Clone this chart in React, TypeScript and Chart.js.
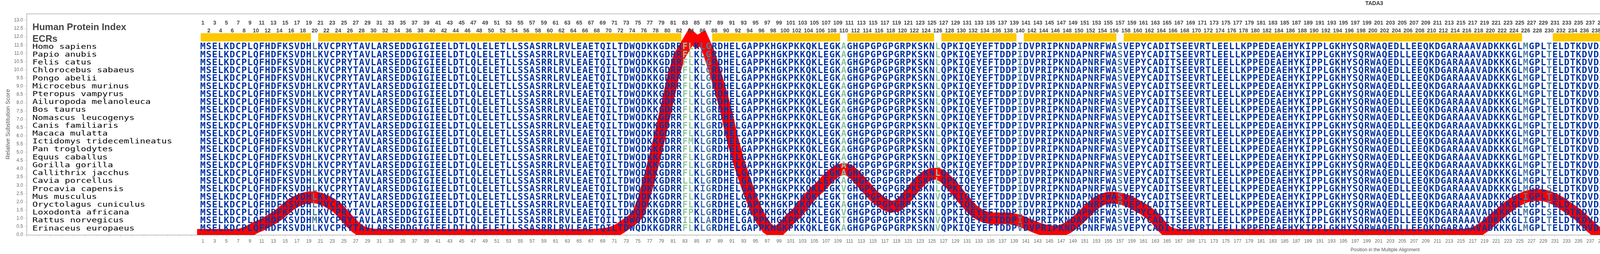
import React, { useEffect, useRef } from 'react';
import { Chart, registerables } from 'chart.js';

Chart.register(...registerables);

const CHART_TITLE = 'TADA3';
const Y_TITLE = 'Relative Substitution Score';
const X_TITLE = 'Position in the Multiple Alignment';
const HEADER_LABEL = 'Human Protein Index';
const ECR_LABEL = 'ECRs';

const SPECIES = [
  'Homo sapiens', 'Papio anubis', 'Felis catus', 'Chlorocebus sabaeus', 'Pongo abelii',
  'Microcebus murinus', 'Pteropus vampyrus', 'Ailuropoda melanoleuca', 'Bos taurus',
  'Nomascus leucogenys', 'Canis familiaris', 'Macaca mulatta', 'Ictidomys tridecemlineatus',
  'Pan troglodytes', 'Equus caballus', 'Gorilla gorilla', 'Callithrix jacchus',
  'Cavia porcellus', 'Procavia capensis', 'Mus musculus', 'Oryctolagus cuniculus',
  'Loxodonta africana', 'Rattus norvegicus', 'Erinaceus europaeus',
];

const HUMAN_SEQUENCE = [
  'MSELKDCPLQ', 'FHDFKSVDHL', 'KVCPRYTAVL', 'ARSEDDGIGI', 'EELDTLQLEL',
  'ETLLSSASRR', 'LRVLEAETQI', 'LTDWQDKKGD', 'RRFLKLGRDH', 'ELGAPPKHGK',
  'PKKQKLEGKA', 'GHGPGPGPGR', 'PKSKNLQPKI', 'QEYEFTDDPI', 'DVPRIPKNDA',
  'PNRFWASVEP', 'YCADITSEEV', 'RTLEELLKPP', 'EDEAEHYKIP', 'PLGKHYSQRW',
  'AQEDLLEEQK', 'DGARAAAVAD', 'KKKGLMGPLT', 'ELDTKDVDAL', 'LKKSEAQHEQ',
  'PEDGCPFGAL', 'TQRLLQALVE', 'ENIISPMEDS', 'PIPDMSGKES', 'GADGASTSPR',
  'NQNKPFSVPH', 'TKSLESRIKE', 'ELIAQGLLES', 'EDRPAEDSED', 'EVLAELRKRQ',
  'AELKALSAHN', 'RTKKHDLLRL', 'AKEEVSRQEL', 'RQRVRMADNE', 'VMDAFRKIMA',
  'ARQKKRTPTK', 'KEKDQAWKTL', 'KERESILKLL', 'DG',
].join('');

// [species row, alignment position, residue]
const VARIANTS: [number, number, string][] = [
  [22, 20, 'M'],
  [17, 83, 'L'], [22, 83, 'I'],
  [12, 84, 'M'], [21, 84, 'P'],
  [18, 86, 'I'],
  [22, 87, 'A'],
  [18, 110, 'V'], [19, 110, 'T'], [21, 110, 'V'], [22, 110, 'T'],
  [19, 126, 'V'], [22, 126, 'V'], [23, 126, 'V'],
  [23, 140, 'V'],
  [20, 157, 'P'],
  [19, 226, 'I'], [20, 226, 'L'], [22, 226, 'I'],
  [18, 230, 'S'], [21, 230, 'S'],
  [20, 287, 'A'],
  [15, 292, 'V'],
  [14, 332, 'E'],
  [13, 372, 'R'],
  [17, 411, 'N'],
];

// [species row, first position, last position, symbol]
const MASKED_RUNS: [number, number, number, string][] = [
  [23, 271, 307, 'X'],
];

const GREEN_COLUMNS = [83, 84, 110, 126];
const GRAYBLUE_COLUMNS = [20, 87, 140, 157, 226, 230, 287, 292, 332, 372, 411];
const MIDBLUE_COLUMNS = [86];

// Evolutionarily conserved regions [first, last]
const ECR_SEGMENTS: [number, number][] = [
  [1, 19], [21, 82], [88, 109], [111, 125], [127, 139], [141, 156], [158, 225],
  [231, 286], [293, 331], [333, 371], [373, 410], [412, 432],
];

const SUBSTITUTION_SCORE = [
  // 1-10
  0, 0, 0, 0, 0, 0, 0, 0.1, 0.25, 0.45,
  // 11-20
  0.6, 0.8, 1.0, 1.25, 1.55, 1.85, 2.05, 2.2, 2.27, 2.27,
  // 21-30
  2.2, 2.05, 1.85, 1.6, 1.2, 0.8, 0.45, 0.2, 0.08, 0.02,
  // 31-40
  0, 0, 0, 0, 0, 0, 0, 0, 0, 0,
  // 41-50
  0, 0, 0, 0, 0, 0, 0, 0, 0, 0,
  // 51-60
  0, 0, 0, 0, 0, 0, 0, 0, 0, 0,
  // 61-70
  0, 0, 0, 0, 0, 0, 0, 0.02, 0.05, 0.1,
  // 71-80
  0.2, 0.4, 0.65, 0.9, 1.25, 2.2, 3.5, 4.9, 6.4, 8.0,
  // 81-90
  9.6, 10.8, 11.4, 12.0, 11.7, 11.9, 11.1, 10.0, 8.8, 7.5,
  // 91-100
  5.9, 4.6, 3.5, 2.5, 1.6, 0.9, 0.4, 0.15, 0.25, 0.6,
  // 101-110
  1.0, 1.3, 1.75, 2.2, 2.6, 2.9, 3.3, 3.65, 3.9, 4.0,
  // 111-120
  3.9, 3.6, 3.2, 2.8, 2.4, 2.1, 1.85, 1.7, 1.75, 2.0,
  // 121-130
  2.4, 2.85, 3.25, 3.55, 3.7, 3.7, 3.5, 3.15, 2.75, 2.3,
  // 131-140
  1.9, 1.5, 1.25, 1.08, 1.0, 1.0, 1.0, 1.0, 0.95, 0.85,
  // 141-150
  0.7, 0.55, 0.4, 0.3, 0.22, 0.2, 0.25, 0.4, 0.65, 0.95,
  // 151-160
  1.3, 1.65, 1.95, 2.15, 2.25, 2.25, 2.2, 2.1, 1.95, 1.75,
  // 161-170
  1.55, 1.3, 1.0, 0.55, 0.2, 0.05, 0, 0, 0, 0,
  // 171-180
  0, 0, 0, 0, 0, 0, 0, 0, 0, 0,
  // 181-190
  0, 0, 0, 0, 0, 0, 0, 0, 0, 0,
  // 191-200
  0, 0, 0, 0, 0, 0, 0, 0, 0, 0,
  // 201-210
  0, 0, 0, 0, 0, 0, 0, 0, 0, 0,
  // 211-220
  0, 0, 0, 0, 0, 0.03, 0.1, 0.25, 0.5, 0.8,
  // 221-230
  1.1, 1.4, 1.7, 1.95, 2.15, 2.3, 2.4, 2.42, 2.4, 2.3,
  // 231-240
  2.15, 1.95, 1.7, 1.45, 1.2, 0.85, 0.5, 0.2, 0.05, 0,
  // 241-250
  0, 0, 0, 0, 0, 0, 0, 0, 0, 0,
  // 251-260
  0, 0, 0, 0, 0, 0, 0, 0, 0, 0,
  // 261-270
  0, 0, 0, 0, 0, 0, 0, 0, 0, 0,
  // 271-280
  0, 0, 0, 0, 0, 0.03, 0.1, 0.25, 0.45, 0.7,
  // 281-290
  1.0, 1.3, 1.7, 2.1, 2.75, 3.1, 3.35, 3.6, 3.67, 3.6,
  // 291-300
  3.45, 3.2, 2.9, 2.5, 2.1, 1.75, 1.4, 1.05, 0.65, 0.3,
  // 301-310
  0.1, 0.02, 0, 0, 0, 0, 0, 0, 0, 0,
  // 311-320
  0, 0, 0, 0, 0, 0, 0, 0, 0, 0,
  // 321-330
  0, 0.03, 0.1, 0.25, 0.45, 0.8, 1.1, 1.35, 1.6, 1.78,
  // 331-340
  1.9, 1.95, 1.92, 1.82, 1.65, 1.5, 1.38, 1.15, 0.8, 0.45,
  // 341-350
  0.2, 0.08, 0.02, 0, 0, 0, 0, 0, 0, 0,
  // 351-360
  0, 0, 0, 0, 0, 0, 0, 0, 0, 0,
  // 361-370
  0, 0.05, 0.15, 0.3, 0.55, 0.85, 1.15, 1.3, 1.42, 1.5,
  // 371-380
  1.53, 1.52, 1.45, 1.35, 1.2, 1.05, 0.88, 0.72, 0.55, 0.35,
  // 381-390
  0.15, 0.05, 0, 0, 0, 0, 0, 0, 0, 0,
  // 391-400
  0, 0, 0, 0, 0, 0, 0, 0, 0, 0.05,
  // 401-410
  0.15, 0.3, 0.55, 0.8, 1.05, 1.35, 1.6, 1.85, 2.0, 2.1,
  // 411-420
  2.08, 1.98, 1.85, 1.7, 1.55, 1.35, 1.1, 0.7, 0.35, 0.12,
  // 421-430
  0.03, 0, 0, 0, 0, 0, 0, 0, 0, 0,
  // 431-432
  0, 0,
];

const POSITIONS = SUBSTITUTION_SCORE.map((_, i) => i + 1);
const X_MIN = -29;
const X_MAX = 433.2;
const X_AXIS_TICKS: number[] = [];
for (let v = X_MIN; v <= X_MAX; v += 2) X_AXIS_TICKS.push(v);

// layout (value units of the y scale)
const NUM_ROW_ODD_BASE = 12.73;
const NUM_ROW_EVEN_BASE = 12.256;
const HEADER_BASE = 12.405;
const ECR_LABEL_BASE = 11.695;
const ECR_LEVEL = 11.97;
const ROW_TOP = 11.434;
const ROW_STEP = 0.4787;
const LABEL_X = -28.0;

const SANS = '"Liberation Sans", Arial, sans-serif';
const MONO = '"DejaVu Sans Mono", monospace';

const DARK_BLUE = '#0033A3';
const GRAY_BLUE = '#4D7DA3';
const MID_BLUE = '#3B6CB5';
const GREEN = '#8DC4A0';

function columnColor(p: number): string {
  if (GREEN_COLUMNS.includes(p)) return GREEN;
  if (GRAYBLUE_COLUMNS.includes(p)) return GRAY_BLUE;
  if (MIDBLUE_COLUMNS.includes(p)) return MID_BLUE;
  return DARK_BLUE;
}

function buildRow(r: number): string[] {
  const chars = HUMAN_SEQUENCE.split('');
  VARIANTS.forEach(([row, p, aa]) => {
    if (row === r) chars[p - 1] = aa;
  });
  MASKED_RUNS.forEach(([row, a, b, s]) => {
    if (row === r) for (let p = a; p <= b; p++) chars[p - 1] = s;
  });
  return chars;
}

const overlayPlugin = {
  id: 'alignmentOverlay',
  afterDatasetsDraw(chart: any) {
    const { ctx, chartArea, scales } = chart;
    const xs = scales.x;
    const ys = scales.y;
    ctx.save();

    // plot border
    ctx.strokeStyle = '#858585';
    ctx.lineWidth = 1;
    ctx.strokeRect(
      Math.round(chartArea.left) + 0.5,
      Math.round(chartArea.top) + 0.5,
      Math.round(chartArea.right - chartArea.left) - 1,
      Math.round(chartArea.bottom - chartArea.top),
    );

    // position numbers
    ctx.font = `bold 14px ${SANS}`;
    ctx.fillStyle = '#444444';
    ctx.textAlign = 'center';
    ctx.textBaseline = 'alphabetic';
    const yOdd = ys.getPixelForValue(NUM_ROW_ODD_BASE);
    const yEven = ys.getPixelForValue(NUM_ROW_EVEN_BASE);
    POSITIONS.forEach((p) => {
      ctx.fillText(String(p), xs.getPixelForValue(p), p % 2 === 1 ? yOdd : yEven);
    });

    // header labels
    const lx = xs.getPixelForValue(LABEL_X);
    ctx.textAlign = 'left';
    ctx.font = `bold 24px ${SANS}`;
    ctx.fillStyle = '#444444';
    ctx.fillText(HEADER_LABEL, lx, ys.getPixelForValue(HEADER_BASE));
    ctx.fillText(ECR_LABEL, lx, ys.getPixelForValue(ECR_LABEL_BASE));

    // species names
    ctx.fillStyle = '#000000';
    ctx.font = `18px ${MONO}`;
    SPECIES.forEach((name, r) => {
      const cy = ys.getPixelForValue(ROW_TOP - r * ROW_STEP);
      ctx.save();
      ctx.translate(lx, cy + 6.6);
      ctx.scale(1.27, 1);
      ctx.fillText(name, 0, 0);
      ctx.restore();
    });

    // sequences
    ctx.font = `bold 23px ${MONO}`;
    ctx.textAlign = 'center';
    const colColors = POSITIONS.map((p) => columnColor(p));
    const colX = POSITIONS.map((p) => xs.getPixelForValue(p));
    SPECIES.forEach((_, r) => {
      const chars = buildRow(r);
      const base = ys.getPixelForValue(ROW_TOP - r * ROW_STEP) + 8.4;
      chars.forEach((c, i) => {
        ctx.fillStyle = colColors[i];
        ctx.fillText(c, colX[i], base);
      });
    });

    // title
    ctx.font = `bold 14px ${SANS}`;
    ctx.fillStyle = '#333333';
    ctx.textAlign = 'center';
    ctx.textBaseline = 'middle';
    ctx.fillText(CHART_TITLE, chart.width / 2, 9);
    ctx.restore();
  },
};

export default function App() {
  const canvasRef = useRef<HTMLCanvasElement | null>(null);

  useEffect(() => {
    const canvas = canvasRef.current;
    if (!canvas) return;

    const scoreData = POSITIONS.map((p, i) => ({ x: p, y: SUBSTITUTION_SCORE[i] }));
    const ecrData: { x: number; y: number | null }[] = [];
    ECR_SEGMENTS.forEach(([a, b]) => {
      ecrData.push({ x: a - 0.38, y: ECR_LEVEL });
      ecrData.push({ x: b + 0.38, y: ECR_LEVEL });
      ecrData.push({ x: b + 0.5, y: null });
    });

    const chart = new Chart(canvas, {
      type: 'line',
      data: {
        datasets: [
          {
            label: 'Relative Substitution Score',
            data: scoreData,
            borderColor: '#FF0000',
            backgroundColor: '#FF0000',
            borderWidth: 30,
            borderCapStyle: 'square',
            borderJoinStyle: 'miter',
            pointRadius: 0,
            tension: 0,
            clip: 0,
          } as any,
          {
            label: 'ECRs',
            data: ecrData,
            borderColor: '#FFC800',
            borderWidth: 21,
            borderCapStyle: 'butt',
            pointRadius: 0,
            spanGaps: false,
            tension: 0,
            clip: 0,
          } as any,
        ],
      },
      options: {
        responsive: false,
        animation: false,
        devicePixelRatio: 1,
        layout: { padding: { top: 35, right: 12, bottom: 0, left: 8 } },
        plugins: {
          legend: { display: false },
          title: { display: false },
          tooltip: { enabled: false },
        },
        scales: {
          x: {
            type: 'linear',
            min: X_MIN,
            max: X_MAX,
            afterBuildTicks: (scale: any) => {
              scale.ticks = X_AXIS_TICKS.map((v) => ({ value: v }));
            },
            afterFit: (scale: any) => {
              scale.height = 49;
            },
            ticks: {
              autoSkip: false,
              maxRotation: 0,
              minRotation: 0,
              padding: 3,
              color: '#666666',
              font: { size: 12, family: SANS },
              callback: (v: any) => (v >= 1 && v <= POSITIONS.length ? String(v) : ''),
            },
            grid: {
              drawOnChartArea: false,
              drawTicks: true,
              tickLength: 6,
              color: '#cccccc',
            },
            border: { color: '#999999' },
            title: {
              display: true,
              text: X_TITLE,
              color: '#555555',
              font: { size: 12, family: SANS },
              padding: { top: 2, bottom: 3 },
            },
          },
          y: {
            type: 'linear',
            min: 0,
            max: 13.4,
            afterFit: (scale: any) => {
              scale.width = 60;
            },
            ticks: {
              stepSize: 0.5,
              includeBounds: false,
              padding: 4,
              color: '#666666',
              font: { size: 12, family: SANS },
              callback: (v: any) => Number(v).toFixed(1),
            },
            grid: {
              drawOnChartArea: false,
              drawTicks: true,
              tickLength: 5,
              color: '#cccccc',
            },
            border: { color: '#bbbbbb' },
            title: {
              display: true,
              text: Y_TITLE,
              color: '#555555',
              font: { size: 15, family: SANS },
              padding: { top: 4, bottom: 0 },
            },
          },
        },
      } as any,
      plugins: [overlayPlugin],
    });

    return () => {
      chart.destroy();
    };
  }, []);

  return (
    <div style={{ position: 'absolute', left: 0, top: 0, width: 7036, height: 650, background: '#fff' }}>
      <canvas ref={canvasRef} width={7036} height={650} style={{ width: 7036, height: 650, display: 'block' }} />
    </div>
  );
}
